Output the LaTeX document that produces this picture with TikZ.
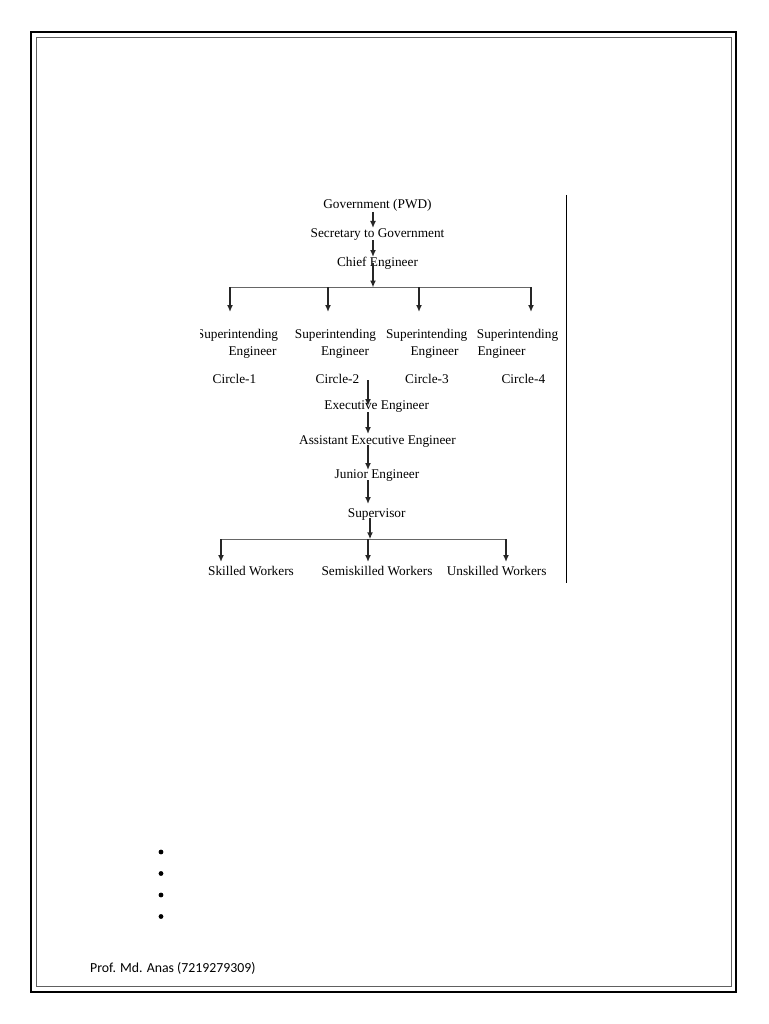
\documentclass[tikz,border=0pt]{standalone}
\usepackage{fontspec}
\setmainfont{Liberation Serif}
\newfontfamily\calibrifont{Carlito}
\usetikzlibrary{arrows.meta}
\begin{document}
\begin{tikzpicture}[x=1pt,y=-1pt,
  lbl/.style={anchor=base,inner sep=0pt,font=\fontsize{13.3}{15}\selectfont},
  arr/.style={-{Latex[length=7pt,width=6pt]},line width=1.5pt,black!85},
  lin/.style={line width=1pt,black!60},
  dotb/.style={fill=black,draw=none}]
\useasboundingbox (0,0) rectangle (768,1024);
% page border
\draw[line width=2pt,black] (31,32) rectangle (736.2,991.7);
\draw[line width=1pt,gray!75!black] (36.7,38) rectangle (731.7,986.7);
% right vertical rule
\draw[line width=1pt] (566,195) -- (566,583);

% top chain
\node[lbl] (gov) at (377.5,209) {Government (PWD)};
\node[lbl] (sec) at (377.5,237) {Secretary to Government};
\node[lbl] (chief) at (377.5,266) {Chief Engineer};
\coordinate (a1) at (373,212);
\coordinate (a1e) at (373,228);
\coordinate (a2) at (373,240);
\coordinate (a2e) at (373,257);
\coordinate (a3) at (373,263);
\coordinate (a3e) at (373,287.5);
\draw[arr] (a1) -- (a1e);
\draw[arr] (a2) -- (a2e);
\draw[arr] (a3) -- (a3e);

% branch to circles
\coordinate (hL) at (229.5,287.5);
\coordinate (hR) at (531.5,287.5);
\draw[lin] (hL) -- (hR);
\coordinate (d1) at (230,287);  \coordinate (d1e) at (230,312);
\coordinate (d2) at (328,287);  \coordinate (d2e) at (328,312);
\coordinate (d3) at (419,287);  \coordinate (d3e) at (419,312);
\coordinate (d4) at (531,287);  \coordinate (d4e) at (531,312);
\draw[arr] (d1) -- (d1e);
\draw[arr] (d2) -- (d2e);
\draw[arr] (d3) -- (d3e);
\draw[arr] (d4) -- (d4e);

\begin{scope}
\clip (200,300) rectangle (600,400);
\node[lbl] (s1) at (237.5,338) {Superintending};
\end{scope}
\node[lbl] (e1) at (252.5,355.5) {Engineer};
\node[lbl] (c1) at (234.5,383) {Circle-1};
\node[lbl] (s2) at (335.5,338) {Superintending};
\node[lbl] (e2) at (345,355.5) {Engineer};
\node[lbl] (c2) at (337.5,383) {Circle-2};
\node[lbl] (s3) at (426.7,338) {Superintending};
\node[lbl] (e3) at (434.5,355.5) {Engineer};
\node[lbl] (c3) at (427,383) {Circle-3};
\node[lbl] (s4) at (517.5,338) {Superintending};
\node[lbl] (e4) at (501.5,355.5) {Engineer};
\node[lbl] (c4) at (523.4,383) {Circle-4};

% lower chain
\node[lbl] (exe) at (376.7,409) {Executive Engineer};
\node[lbl] (aee) at (377.5,444.5) {Assistant Executive Engineer};
\node[lbl] (jun) at (377,478.5) {Junior Engineer};
\node[lbl] (sup) at (376.7,517) {Supervisor};
\coordinate (b1) at (368,380);  \coordinate (b1e) at (368,406);
\coordinate (b2) at (368,412);  \coordinate (b2e) at (368,434);
\coordinate (b3) at (368,445);  \coordinate (b3e) at (368,470);
\coordinate (b4) at (368,480);  \coordinate (b4e) at (368,504);
\coordinate (b5) at (370,518);  \coordinate (b5e) at (370,539.3);
\draw[arr] (b1) -- (b1e);
\draw[arr] (b2) -- (b2e);
\draw[arr] (b3) -- (b3e);
\draw[arr] (b4) -- (b4e);
\draw[arr] (b5) -- (b5e);

% workers branch
\coordinate (wL) at (220.5,539.3);
\coordinate (wR) at (506.5,539.3);
\draw[lin] (wL) -- (wR);
\coordinate (w1) at (221,539);   \coordinate (w1e) at (221,562);
\coordinate (w2) at (368,539);   \coordinate (w2e) at (368,562);
\coordinate (w3) at (506,539);   \coordinate (w3e) at (506,562);
\draw[arr] (w1) -- (w1e);
\draw[arr] (w2) -- (w2e);
\draw[arr] (w3) -- (w3e);
\node[lbl] (sk) at (251,575) {Skilled Workers};
\node[lbl] (ssk) at (377,575) {Semiskilled Workers};
\node[lbl] (usk) at (496.7,575) {Unskilled Workers};

% bullets
\fill[dotb] (161,852) circle (2.4);
\fill[dotb] (161,873.5) circle (2.4);
\fill[dotb] (161,895) circle (2.4);
\fill[dotb] (161,916.5) circle (2.4);

% footer
\node[anchor=base west,inner sep=0pt,font=\calibrifont\fontsize{13.8}{16}\selectfont] (foot) at (90,972.5) {Prof. Md. Anas (7219279309)};
\end{tikzpicture}
\end{document}
